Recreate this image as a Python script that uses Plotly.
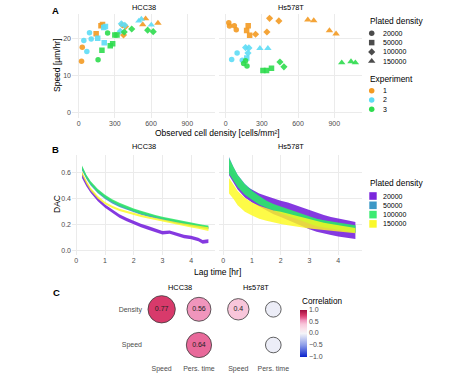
import plotly.graph_objects as go

W, H = 474, 382
FONT = "Liberation Sans, Arial, sans-serif"
TICK_COLOR = "#4D4D4D"
GRID = "#EBEBEB"


def px(x):
    return x / W


def py(y):
    return 1 - y / H


# ---------------- Panel A data ----------------
cell_lines = ["HCC38", "Hs578T"]
plated_levels = [20000, 50000, 100000, 150000]
plated_labels = ["20000", "50000", "100000", "150000"]
experiments = [1, 2, 3]
experiment_labels = ["1", "2", "3"]

hcc_exp = [1, 1, 1, 1, 1, 1, 1, 1, 1, 1, 1,
           2, 2, 2, 2, 2, 2, 2, 2, 2, 2, 2, 2, 2, 2,
           3, 3, 3, 3, 3, 3, 3, 3, 3, 3, 3]
hcc_plated = [20000, 20000, 50000, 50000, 50000, 100000, 100000, 100000, 150000, 150000, 150000,
              20000, 20000, 20000, 20000, 50000, 50000, 50000, 50000, 100000, 100000, 100000, 150000, 150000, 150000,
              20000, 20000, 50000, 50000, 50000, 50000, 50000, 100000, 100000, 100000, 100000]
hcc_density = [24, 30, 145, 185, 198, 362, 388, 372, 531, 657, 555,
               43, 68, 90, 104, 158, 212, 208, 222, 354, 382, 345, 499, 520, 602,
               161, 240, 193, 262, 282, 300, 318, 378, 440, 572, 618]
hcc_speed = [13.9, 17.7, 21.3, 23.5, 23.8, 23.7, 23.3, 21.0, 23.8, 24.2, 25.4,
             19.5, 16.5, 21.6, 19.9, 20.1, 18.9, 23.0, 23.3, 24.0, 23.6, 22.0, 24.8, 25.3, 23.7,
             14.3, 21.5, 16.9, 18.1, 18.6, 21.0, 21.0, 21.8, 22.6, 22.3, 21.9]

hs_exp = [1, 1, 1, 1, 1, 1, 1, 1, 1, 1, 1, 1, 1, 1, 1,
          2, 2, 2, 2, 2, 2, 2, 2, 2,
          3, 3, 3, 3, 3, 3, 3, 3, 3, 3, 3]
hs_plated = [20000, 20000, 20000, 20000, 50000, 50000, 50000, 100000, 100000, 100000, 100000, 150000, 150000, 150000, 150000,
             20000, 20000, 20000, 50000, 100000, 100000, 100000, 150000, 150000,
             20000, 20000, 20000, 50000, 50000, 50000, 100000, 100000, 150000, 150000, 150000]
hs_density = [26, 32, 72, 88, 187, 174, 199, 248, 342, 364, 441, 681, 730, 860, 915,
              50, 95, 138, 175, 165, 193, 185, 284, 350,
              149, 177, 165, 309, 339, 380, 450, 483, 962, 1039, 1075]
hs_speed = [24.3, 23.4, 23.5, 22.4, 23.5, 22.2, 20.9, 21.2, 21.8, 25.5, 24.8, 25.1, 24.9, 22.2, 21.3,
            14.4, 16.1, 14.2, 14.8, 17.6, 17.5, 16.1, 17.4, 17.4,
            13.3, 12.6, 14.0, 11.4, 11.4, 12.0, 13.7, 12.4, 13.5, 13.8, 13.5]

a_x_ticks = [0, 300, 600, 900]
a_y_ticks = [0, 10, 20]

# ---------------- Panel B data ----------------
lag_time = [0.2, 0.35, 0.5, 0.75, 1.0, 1.25, 1.5, 1.75, 2.0, 2.25, 2.5, 2.75, 3.0, 3.25, 3.5, 3.75, 4.0, 4.25, 4.4, 4.6]

hcc_20000_hi = [0.60, 0.53, 0.475, 0.41, 0.355, 0.315, 0.28, 0.253, 0.228, 0.208, 0.19, 0.172, 0.152, 0.156, 0.137, 0.122, 0.115, 0.10, 0.083, 0.088]
hcc_20000_lo = [0.56, 0.495, 0.445, 0.38, 0.33, 0.288, 0.253, 0.226, 0.20, 0.18, 0.162, 0.145, 0.125, 0.13, 0.11, 0.095, 0.088, 0.073, 0.053, 0.06]
hcc_50000_hi = [0.648, 0.578, 0.528, 0.468, 0.424, 0.389, 0.362, 0.339, 0.319, 0.301, 0.284, 0.269, 0.256, 0.244, 0.232, 0.221, 0.211, 0.201, 0.194, 0.187]
hcc_50000_lo = [0.617, 0.552, 0.502, 0.442, 0.398, 0.364, 0.337, 0.315, 0.295, 0.277, 0.262, 0.247, 0.234, 0.222, 0.21, 0.199, 0.189, 0.179, 0.172, 0.165]
hcc_100000_hi = [0.655, 0.585, 0.535, 0.475, 0.43, 0.395, 0.368, 0.345, 0.325, 0.307, 0.29, 0.275, 0.262, 0.25, 0.238, 0.227, 0.217, 0.207, 0.20, 0.193]
hcc_100000_lo = [0.625, 0.56, 0.51, 0.45, 0.405, 0.372, 0.345, 0.323, 0.303, 0.285, 0.27, 0.255, 0.242, 0.23, 0.218, 0.207, 0.197, 0.187, 0.18, 0.172]
hcc_150000_hi = [0.61, 0.54, 0.485, 0.42, 0.375, 0.345, 0.322, 0.305, 0.29, 0.276, 0.263, 0.251, 0.24, 0.229, 0.219, 0.209, 0.20, 0.191, 0.185, 0.18]
hcc_150000_lo = [0.585, 0.515, 0.462, 0.40, 0.357, 0.328, 0.306, 0.289, 0.274, 0.26, 0.247, 0.235, 0.223, 0.211, 0.20, 0.189, 0.179, 0.169, 0.162, 0.152]

hs_20000_hi = [0.66, 0.60, 0.55, 0.50, 0.47, 0.44, 0.42, 0.40, 0.385, 0.37, 0.35, 0.33, 0.31, 0.29, 0.275, 0.26, 0.25, 0.235, 0.23, 0.22]
hs_20000_lo = [0.58, 0.52, 0.47, 0.41, 0.37, 0.34, 0.31, 0.28, 0.26, 0.235, 0.21, 0.19, 0.165, 0.145, 0.13, 0.12, 0.11, 0.10, 0.095, 0.09]
hs_50000_hi = [0.72, 0.645, 0.585, 0.515, 0.465, 0.42, 0.385, 0.355, 0.335, 0.315, 0.295, 0.278, 0.26, 0.245, 0.232, 0.222, 0.212, 0.203, 0.198, 0.193]
hs_50000_lo = [0.60, 0.545, 0.495, 0.435, 0.39, 0.355, 0.328, 0.305, 0.285, 0.265, 0.245, 0.225, 0.205, 0.188, 0.176, 0.166, 0.157, 0.148, 0.143, 0.138]
hs_100000_hi = [0.71, 0.64, 0.58, 0.51, 0.46, 0.42, 0.385, 0.36, 0.34, 0.325, 0.305, 0.285, 0.265, 0.245, 0.235, 0.225, 0.215, 0.205, 0.20, 0.195]
hs_100000_lo = [0.59, 0.54, 0.49, 0.43, 0.39, 0.355, 0.33, 0.31, 0.29, 0.27, 0.25, 0.23, 0.21, 0.19, 0.18, 0.17, 0.16, 0.15, 0.145, 0.14]
hs_150000_hi = [0.56, 0.51, 0.46, 0.405, 0.37, 0.345, 0.325, 0.31, 0.30, 0.285, 0.27, 0.255, 0.24, 0.225, 0.215, 0.205, 0.195, 0.185, 0.18, 0.175]
hs_150000_lo = [0.44, 0.40, 0.35, 0.30, 0.27, 0.245, 0.23, 0.215, 0.205, 0.195, 0.185, 0.175, 0.17, 0.165, 0.16, 0.155, 0.15, 0.145, 0.14, 0.135]

b_x_ticks = [0, 1, 2, 3, 4]
b_y_ticks = [0.0, 0.2, 0.4, 0.6]

# ---------------- Panel C data ----------------
corr_rows = ["Speed", "Density"]          # bottom -> top
corr_cols = ["Speed", "Pers. time"]
hcc_corr_row = ["Density", "Density", "Speed"]
hcc_corr_col = ["Speed", "Pers. time", "Pers. time"]
hcc_corr_val = [0.77, 0.56, 0.64]
hcc_corr_lab = ["0.77", "0.56", "0.64"]
hs_corr_row = ["Density", "Density", "Speed"]
hs_corr_col = ["Speed", "Pers. time", "Pers. time"]
hs_corr_val = [0.40, -0.04, -0.04]
hs_corr_lab = ["0.4", "", ""]
cbar_ticks = [-1.0, -0.5, 0.0, 0.5, 1.0]
cbar_labels = ["\u22121.0", "\u22120.5", "0.0", "0.5", "1.0"]

# ---------------- styles ----------------
exp_colors = {1: "#F39A22", 2: "#5DDCF5", 3: "#2EDC4E"}
plated_symbols = {20000: "circle", 50000: "square", 100000: "diamond", 150000: "triangle-up"}
ribbon_colors = {20000: "rgba(112,22,218,0.85)", 50000: "rgba(52,145,195,0.85)",
                 100000: "rgba(48,232,100,0.85)", 150000: "rgba(252,250,30,0.82)"}
legend_key_colors = {20000: "#7A26DC", 50000: "#3C98C6", 100000: "#3CEB72", 150000: "#FAF82A"}

fig = go.Figure()

# ---------- Panel A scatter ----------
a_sets = [(hcc_exp, hcc_plated, hcc_density, hcc_speed, "x", "y"),
          (hs_exp, hs_plated, hs_density, hs_speed, "x2", "y2")]
for exps, plat, dens, spd, xa, ya in a_sets:
    for e in experiments:
        for p in plated_levels:
            xs = [d for d, ee, pp in zip(dens, exps, plat) if ee == e and pp == p]
            ys = [s for s, ee, pp in zip(spd, exps, plat) if ee == e and pp == p]
            if not xs:
                continue
            fig.add_trace(go.Scatter(
                x=xs, y=ys, mode="markers", xaxis=xa, yaxis=ya, showlegend=False,
                marker=dict(symbol=plated_symbols[p], color=exp_colors[e],
                            size=6.5 if p == 150000 else 5.5, opacity=0.9, line=dict(width=0))))

# ---------- Panel B ribbons ----------
b_sets = [
    ("x3", "y3", {20000: (hcc_20000_lo, hcc_20000_hi), 50000: (hcc_50000_lo, hcc_50000_hi),
                  100000: (hcc_100000_lo, hcc_100000_hi), 150000: (hcc_150000_lo, hcc_150000_hi)}),
    ("x4", "y4", {20000: (hs_20000_lo, hs_20000_hi), 50000: (hs_50000_lo, hs_50000_hi),
                  100000: (hs_100000_lo, hs_100000_hi), 150000: (hs_150000_lo, hs_150000_hi)}),
]
for xa, ya, series in b_sets:
    for p in plated_levels:
        lo, hi = series[p]
        fig.add_trace(go.Scatter(x=lag_time, y=lo, mode="lines", line=dict(width=0),
                                 xaxis=xa, yaxis=ya, showlegend=False, hoverinfo="skip"))
        fig.add_trace(go.Scatter(x=lag_time, y=hi, mode="lines", line=dict(width=0),
                                 fill="tonexty", fillcolor=ribbon_colors[p],
                                 xaxis=xa, yaxis=ya, showlegend=False))

# ---------- Panel C bubbles ----------
def bubble_sizes(vals):
    return [15 + 16 * abs(v) for v in vals]

for rows, cols, vals, labs, xa, ya in [
        (hcc_corr_row, hcc_corr_col, hcc_corr_val, hcc_corr_lab, "x5", "y5"),
        (hs_corr_row, hs_corr_col, hs_corr_val, hs_corr_lab, "x6", "y6")]:
    fig.add_trace(go.Scatter(
        x=cols, y=rows, mode="markers+text", text=labs, textposition="middle center",
        textfont=dict(family=FONT, size=7, color="#222222"),
        xaxis=xa, yaxis=ya, showlegend=False,
        marker=dict(size=bubble_sizes(vals), color=vals, coloraxis="coloraxis",
                    line=dict(color="#3A3A3A", width=0.8), opacity=1)))

# ---------- custom legends (overlay axis in pixel units) ----------
leg_x_sym = 371.7
leg_x_txt = 380.5
leg_a1_rows = [33.3, 42.6, 51.9, 61.2]
leg_a2_rows = [90.7, 100.0, 109.3]
leg_b_rows = [196.0, 205.3, 214.6, 223.9]

fig.add_trace(go.Scatter(
    x=[leg_x_sym] * 4, y=leg_a1_rows, mode="markers", xaxis="x7", yaxis="y7", showlegend=False,
    hoverinfo="skip",
    marker=dict(symbol=[plated_symbols[p] for p in plated_levels], color="black",
                size=[5.5, 5.5, 5.5, 6.5], line=dict(width=0))))
fig.add_trace(go.Scatter(
    x=[leg_x_sym] * 3, y=leg_a2_rows, mode="markers", xaxis="x7", yaxis="y7", showlegend=False,
    hoverinfo="skip",
    marker=dict(symbol="circle", color=[exp_colors[e] for e in experiments], size=5.5,
                line=dict(width=0))))

shapes = []
for p, yy in zip(plated_levels, leg_b_rows):
    shapes.append(dict(type="rect", xref="paper", yref="paper",
                       x0=px(369.3), x1=px(376.7), y0=py(yy + 3.8), y1=py(yy - 3.8),
                       fillcolor=legend_key_colors[p], line=dict(width=0)))

annotations = []


def ann(text, x, y, size, xanchor="center", yanchor="middle", color="black", angle=0, bold=False):
    if bold:
        text = "<b>" + text + "</b>"
    annotations.append(dict(text=text, x=px(x), y=py(y), xref="paper", yref="paper",
                            xanchor=xanchor, yanchor=yanchor, showarrow=False, textangle=angle,
                            font=dict(family=FONT, size=size, color=color)))


# legend texts
ann("Plated density", 368, 21, 8.4, xanchor="left")
for lab, yy in zip(plated_labels, leg_a1_rows):
    ann(lab, leg_x_txt, yy, 7, xanchor="left")
ann("Experiment", 368, 79, 8.4, xanchor="left")
for lab, yy in zip(experiment_labels, leg_a2_rows):
    ann(lab, leg_x_txt, yy, 7, xanchor="left")
ann("Plated density", 368, 183.3, 8.4, xanchor="left")
for lab, yy in zip(plated_labels, leg_b_rows):
    ann(lab, leg_x_txt, yy, 7, xanchor="left")
ann("Correlation", 299.5, 301.0, 8.2, xanchor="left")

# panel letters
ann("A", 55.7, 10.7, 9.5, bold=True)
ann("B", 55.7, 149.3, 9.5, bold=True)
ann("C", 56, 292, 9.5, bold=True)

# facet titles
ann("HCC38", 143.5, 7.5, 7.4)
ann("Hs578T", 290.5, 7.5, 7.4)
ann("HCC38", 143.5, 146.7, 7.4)
ann("Hs578T", 290.5, 146.7, 7.4)
ann("HCC38", 180.3, 287.5, 7.4)
ann("Hs578T", 255.8, 287.5, 7.4)

# axis titles
ann("Speed [\u00b5m/hr]", 57.5, 65.5, 8.5, angle=-90)
ann("Observed cell density [cells/mm\u00b2]", 217, 132.5, 8.5)
ann("DAC", 56.5, 204.5, 8.5, angle=-90)
ann("Lag time [hr]", 217, 271.5, 8.5)

# ---------- axes ----------
tickfont = dict(family=FONT, size=7, color=TICK_COLOR)
A_XDOM = [(72, 215), (219, 362)]
A_YDOM = (13.5, 117.5)
B_YDOM = (154.5, 254.6)
C_XDOM = [(143, 217.6), (220.8, 290.8)]
C_YDOM = (291.45, 362.85)


def xdom(d):
    return [px(d[0]), px(d[1])]


def ydom(d):
    return [py(d[1]), py(d[0])]


base = dict(showgrid=True, gridcolor=GRID, gridwidth=1, zeroline=False, showline=False,
            ticks="", tickfont=tickfont)

layout_axes = {}
# Panel A
layout_axes["xaxis"] = dict(base, domain=xdom(A_XDOM[0]), range=[-55, 1130], tickvals=a_x_ticks,
                            anchor="y")
layout_axes["xaxis2"] = dict(base, domain=xdom(A_XDOM[1]), range=[-55, 1130], tickvals=a_x_ticks,
                             anchor="y2")
layout_axes["yaxis"] = dict(base, domain=ydom(A_YDOM), range=[-1.3, 26.8], tickvals=a_y_ticks,
                            anchor="x")
layout_axes["yaxis2"] = dict(base, domain=ydom(A_YDOM), range=[-1.3, 26.8], tickvals=a_y_ticks,
                             anchor="x2", showticklabels=False)
# Panel B
layout_axes["xaxis3"] = dict(base, domain=xdom(A_XDOM[0]), range=[-0.15, 4.83], tickvals=b_x_ticks,
                             anchor="y3")
layout_axes["xaxis4"] = dict(base, domain=xdom(A_XDOM[1]), range=[-0.15, 4.83], tickvals=b_x_ticks,
                             anchor="y4")
layout_axes["yaxis3"] = dict(base, domain=ydom(B_YDOM), range=[-0.03, 0.74], tickvals=b_y_ticks,
                             tickformat=".1f", anchor="x3")
layout_axes["yaxis4"] = dict(base, domain=ydom(B_YDOM), range=[-0.03, 0.74], tickvals=b_y_ticks,
                             anchor="x4", showticklabels=False)
# Panel C
cbase = dict(showgrid=False, zeroline=False, showline=False, ticks="", tickfont=tickfont,
             type="category")
layout_axes["xaxis5"] = dict(cbase, domain=xdom(C_XDOM[0]), categoryorder="array",
                             categoryarray=corr_cols, range=[-0.5, 1.5], anchor="y5")
layout_axes["xaxis6"] = dict(cbase, domain=xdom(C_XDOM[1]), categoryorder="array",
                             categoryarray=corr_cols, range=[-0.5, 1.5], anchor="y6")
layout_axes["yaxis5"] = dict(cbase, domain=ydom(C_YDOM), categoryorder="array",
                             categoryarray=corr_rows, range=[-0.5, 1.5], anchor="x5")
layout_axes["yaxis6"] = dict(cbase, domain=ydom(C_YDOM), categoryorder="array",
                             categoryarray=corr_rows, range=[-0.5, 1.5], anchor="x6",
                             showticklabels=False)
# overlay axis for legend glyphs (pixel units)
layout_axes["xaxis7"] = dict(domain=[0, 1], range=[0, W], visible=False, anchor="y7")
layout_axes["yaxis7"] = dict(domain=[0, 1], range=[H, 0], visible=False, anchor="x7")

fig.update_layout(
    width=W, height=H, margin=dict(l=0, r=0, t=0, b=0),
    paper_bgcolor="white", plot_bgcolor="rgba(0,0,0,0)",
    font=dict(family=FONT, size=7, color="black"),
    showlegend=False, hovermode=False,
    annotations=annotations, shapes=shapes,
    coloraxis=dict(
        cmin=-1, cmax=1,
        colorscale=[[0.0, "#0A22CC"], [0.25, "#8C9CE8"], [0.5, "#F4F4F8"], [0.6, "#FBE0EA"],
                    [0.7, "#F8C6DA"], [0.78, "#F095BC"], [0.82, "#E8699A"], [0.885, "#D83A6B"],
                    [1.0, "#9E0B3C"]],
        colorbar=dict(thickness=7, thicknessmode="pixels", len=47.4, lenmode="pixels",
                      x=px(300), xanchor="left", y=py(333), yanchor="middle",
                      xpad=0, ypad=0, outlinewidth=0, ticks="", tickvals=cbar_ticks,
                      ticktext=cbar_labels, tickfont=dict(family=FONT, size=7, color=TICK_COLOR))),
    **layout_axes,
)

fig.write_html("out.html", config={"displayModeBar": False, "staticPlot": True},
               post_script="document.body.style.margin='0px';document.body.style.overflow='hidden';")
